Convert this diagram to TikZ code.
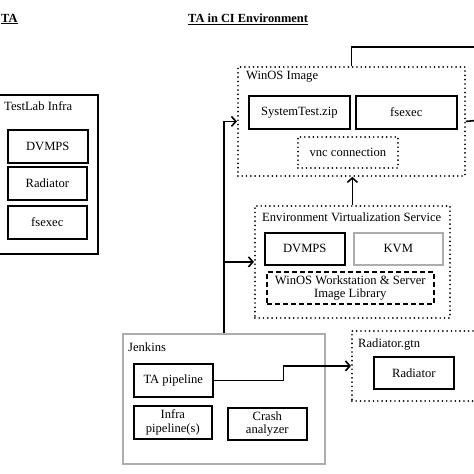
\documentclass[tikz,border=0pt]{standalone}
\usepackage{fontspec}
\setmainfont{Liberation Serif}
\usetikzlibrary{arrows.meta}
\begin{document}
\begin{tikzpicture}[x=1pt,y=-1pt, font=\fontsize{12.6}{14}\selectfont,
 box/.style={draw, line width=1.6pt, anchor=north west, inner sep=0pt, align=center},
 graybox/.style={box, draw=black!32},
 dotbox/.style={draw, line width=1.8pt, dash pattern=on 0.01pt off 4.3pt, line cap=round, anchor=north west, inner sep=0pt, align=center},
 dashbox/.style={draw, line width=1.6pt, dash pattern=on 5pt off 3pt, anchor=north west, inner sep=0pt, align=center, font=\fontsize{12.6}{13.5}\selectfont},
 conn/.style={line width=1.6pt},
 arr/.style={conn, -{Straight Barb[length=4.5pt,width=10pt,line width=1.6pt]}},
 lbl/.style={anchor=west, inner sep=0pt},
 ttl/.style={anchor=west, inner sep=0pt, font=\fontsize{12.4}{14}\selectfont\bfseries}]
\useasboundingbox (0,0) rectangle (474,474);

% titles
\node[ttl] (t1) at (1,19) {\underline{TA}};
\node[ttl] (t2) at (188,19) {\underline{TA in CI Environment}};

% TestLab Infra
\node[box, minimum width=100, minimum height=159] (tl) at (-3,94) {};
\node[lbl] (tllbl) at (4,106) {TestLab Infra};
\node[box, minimum width=80, minimum height=33] (tld) at (7,129) {DVMPS};
\node[box, minimum width=79, minimum height=33] (tlr) at (7,166) {Radiator};
\node[box, minimum width=79, minimum height=33] (tlf) at (7,205) {fsexec};

% WinOS Image
\node[dotbox, minimum width=227, minimum height=109] (winos) at (237,66) {};
\node[lbl] (winoslbl) at (246,77) {WinOS Image};
\node[box, minimum width=101, minimum height=33] (st) at (248,95) {SystemTest.zip};
\node[box, minimum width=101, minimum height=33] (wf) at (355,95) {fsexec};
\node[dotbox, minimum width=100, minimum height=31] (vnc) at (297,136) {vnc connection};

% Environment Virtualization Service
\node[dotbox, minimum width=195, minimum height=112] (env) at (254,205) {};
\node[lbl] (envlbl) at (262,217) {Environment Virtualization Service};
\node[box, minimum width=80, minimum height=32] (ed) at (264,232) {DVMPS};
\node[graybox, minimum width=89, minimum height=32] (kvm) at (353,232) {KVM};
\node[dashbox, minimum width=167, minimum height=32] (lib) at (266,271) {WinOS Workstation \& Server\\Image Library};

% Jenkins
\node[graybox, minimum width=202, minimum height=130] (jen) at (122,333) {};
\node[lbl] (jenlbl) at (128,347) {Jenkins};
\node[box, minimum width=79, minimum height=33] (tap) at (133,363) {TA pipeline};
\node[box, minimum width=78, minimum height=33, font=\fontsize{12.6}{13.5}\selectfont] (infra) at (133,405) {Infra\\pipeline(s)};
\node[box, minimum width=79, minimum height=32, font=\fontsize{12.6}{13.5}\selectfont] (crash) at (227,407) {Crash\\analyzer};

% Radiator.gtn
\node[dotbox, minimum width=129, minimum height=70] (rgtn) at (351,330) {};
\node[lbl] (rgtnlbl) at (358,344) {Radiator.gtn};
\node[box, minimum width=80, minimum height=32] (rad) at (373,356) {Radiator};

% connectors
\coordinate (tr) at (476,47);
\coordinate (fr) at (476,120.5);
\draw[arr] (jen.north) |- (winos.west);
\draw[arr] (jen.north) |- (env.west);
\draw[arr] (env.north) -- (env.north |- winos.south);
\draw[conn] (winos.north) |- (tr);
\draw[conn] (winos.east) -- (fr);
\draw[arr] (tap.east) -- ++(70,0) |- (rgtn.west);
\end{tikzpicture}
\end{document}
